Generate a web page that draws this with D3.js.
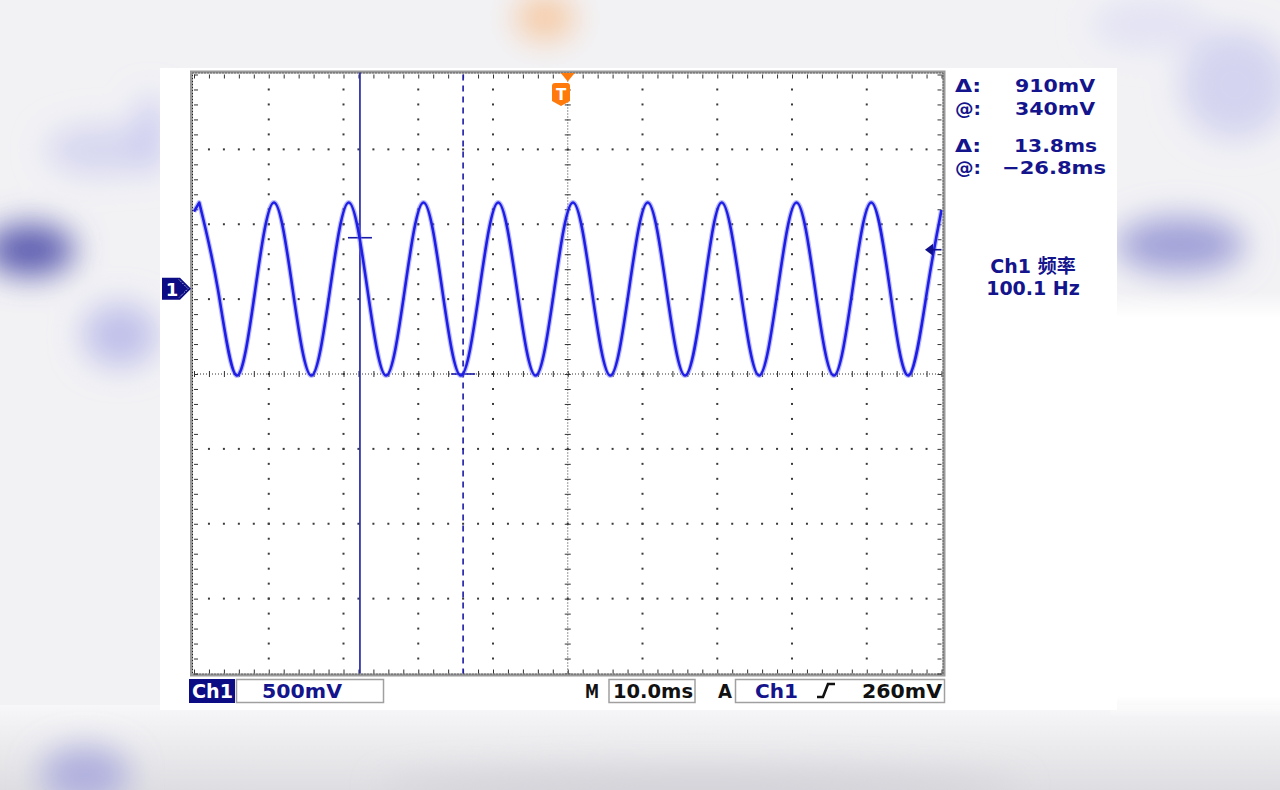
<!DOCTYPE html>
<html><head><meta charset="utf-8">
<script src="https://cdn.jsdelivr.net/npm/d3@7"></script>
<style>html,body{margin:0;padding:0;background:#fff;}svg{display:block}</style>
</head><body><svg id="c" width="1280" height="790"></svg>
<script>
// ---------- data ----------
const timePerDivMs = 10;          // M 10.0ms
const voltPerDivMv = 500;         // Ch1 500mV
const groundOffsetDiv = 1.14;     // Ch1 reference marker above centre
const hDivs = 10, vDivs = 8;
// waveform samples: time (ms) and voltage (mV)
const waveT = [-50.0,-49.3,-46.8,-44.3,-41.8,-39.3,-36.8,-34.3,-31.8,-29.3,-26.8,-24.3,-21.8,-19.3,-16.8,-14.3,-11.8,-9.3,-6.8,-4.3,-1.8,0.7,3.2,5.7,8.2,10.7,13.2,15.7,18.2,20.6,23.1,25.6,28.1,30.6,33.1,35.6,38.1,40.6,43.1,45.6,48.1,50.0];
const waveV = [515,575,-5,-580,-5,575,-5,-580,-5,575,-5,-580,-5,575,-5,-580,-5,575,-5,-580,-5,575,-5,-580,-5,575,-5,-580,-5,575,-5,-580,-5,575,-5,-580,-5,575,-5,-580,-5,525];
const cursorT = [-27.8, -14.0];       // solid, dashed
const cursorV = [340, -570];         // @ 340mV, Δ 910mV
const triggerLevelMv = 260;
const readLabels = ["Δ:", "@:", "Δ:", "@:"];
const readValues = ["910mV", "340mV", "13.8ms", "−26.8ms"];
const freqLabels = ["Ch1 频率", "100.1 Hz"];
const statusTexts = ["Ch1", "500mV", "M", "10.0ms", "A", "Ch1", "260mV"];

// ---------- layout ----------
const X0 = 194, X1 = 941.5, Y0 = 74.5, Y1 = 673.5;
const navy = "#14148c", trace = "#1e1ee6", curCol = "#1a1aa8";
const svg = d3.select("#c");
const defs = svg.append("defs");
defs.append("filter").attr("id","blur").attr("x","-100%").attr("y","-100%").attr("width","300%").attr("height","300%")
  .append("feGaussianBlur").attr("stdDeviation",16);
defs.append("clipPath").attr("id","plot").append("rect").attr("x",X0-1).attr("y",Y0-2).attr("width",X1-X0+2).attr("height",Y1-Y0+3);
const bg = defs.append("linearGradient").attr("id","bot").attr("x1",0).attr("y1",0).attr("x2",0).attr("y2",1);
bg.append("stop").attr("offset",0).attr("stop-color","#f7f7f9");
bg.append("stop").attr("offset",1).attr("stop-color","#dedee2");
const wr = defs.append("linearGradient").attr("id","wr").attr("x1",0).attr("y1",0).attr("x2",0).attr("y2",1);
wr.append("stop").attr("offset",0).attr("stop-color","#fff").attr("stop-opacity",0);
wr.append("stop").attr("offset",0.06).attr("stop-color","#fff").attr("stop-opacity",1);
wr.append("stop").attr("offset",0.95).attr("stop-color","#fff").attr("stop-opacity",1);
wr.append("stop").attr("offset",1).attr("stop-color","#fff").attr("stop-opacity",0);

// background
svg.append("rect").attr("width",1280).attr("height",790).attr("fill","#f2f2f5");
svg.append("rect").attr("y",705).attr("width",1280).attr("height",85).attr("fill","url(#bot)");
const blobs = svg.append("g").attr("filter","url(#blur)");
[[30,250,45,26,"#5c5cb0"],[120,335,38,32,"#c0c0ea"],[100,150,55,25,"#d6d6f0"],[150,135,14,40,"#c8c8f0"],
 [545,18,30,22,"#f6c8a0"],[1180,245,65,28,"#a0a0d8"],[1235,85,55,55,"#d4d4f0"],[1150,25,60,25,"#e2e2f4"],
 [85,775,45,28,"#aeaede"],[700,790,320,18,"#d2d2d8"]]
 .forEach(b=>blobs.append("ellipse").attr("cx",b[0]).attr("cy",b[1]).attr("rx",b[2]).attr("ry",b[3]).attr("fill",b[4]));
svg.append("rect").attr("x",1110).attr("y",292).attr("width",170).attr("height",425).attr("fill","url(#wr)");
svg.append("rect").attr("x",160).attr("y",68).attr("width",957).attr("height",642).attr("fill","#fff");

// ---------- scales ----------
const x = d3.scaleLinear().domain([-hDivs/2*timePerDivMs, hDivs/2*timePerDivMs]).range([X0, X1]);
const vTop = (vDivs/2 - groundOffsetDiv)*voltPerDivMv, vBot = -(vDivs/2 + groundOffsetDiv)*voltPerDivMv;
const y = d3.scaleLinear().domain([vBot, vTop]).range([Y1, Y0]);
const xMid = x(0), yMid = y(vBot + vDivs/2*voltPerDivMv);
const minorT = d3.range(-50, 50.001, timePerDivMs/5);
const minorV = d3.range(vBot, vTop+0.01, voltPerDivMv/5);
const majorT = d3.range(-50, 50.001, timePerDivMs);
const majorV = d3.range(vBot, vTop+0.01, voltPerDivMv);

// ---------- graticule ----------
const g = svg.append("g");
const dotCol = "#3a3a3a";
majorV.slice(1,-1).forEach((v,i)=>{
  if (i+1 === vDivs/2) return;
  g.selectAll(null).data(minorT.slice(1,-1)).enter().append("rect")
    .attr("x",d=>x(d)-1).attr("y",y(v)-1).attr("width",2).attr("height",2).attr("fill",dotCol);
});
majorT.slice(1,-1).forEach((t,i)=>{
  if (i+1 === hDivs/2) return;
  g.selectAll(null).data(minorV.slice(1,-1)).enter().append("rect")
    .attr("x",x(t)-1).attr("y",d=>y(d)-1).attr("width",2).attr("height",2).attr("fill",dotCol);
});
g.append("line").attr("x1",X0).attr("x2",X1).attr("y1",yMid).attr("y2",yMid)
  .attr("stroke","#333").attr("stroke-width",1).attr("stroke-dasharray","1,2");
g.append("line").attr("x1",xMid).attr("x2",xMid).attr("y1",Y0).attr("y2",Y1)
  .attr("stroke","#333").attr("stroke-width",1).attr("stroke-dasharray","1,2");
g.append("g").attr("transform",`translate(0,${yMid})`)
  .call(d3.axisBottom(x).tickValues(minorT).tickSize(3).tickFormat(""))
  .call(a=>a.select(".domain").remove()).selectAll("line").attr("stroke","#333").attr("y1",-3);
g.append("g").attr("transform",`translate(${xMid},0)`)
  .call(d3.axisRight(y).tickValues(minorV).tickSize(3).tickFormat(""))
  .call(a=>a.select(".domain").remove()).selectAll("line").attr("stroke","#333").attr("x1",-3);
g.append("rect").attr("x",X0-2.5).attr("y",Y0-2.5).attr("width",X1-X0+5).attr("height",Y1-Y0+4)
  .attr("fill","none").attr("stroke","#9a9a9a").attr("stroke-width",3);
g.append("rect").attr("x",X0-1.5).attr("y",Y0-1.5).attr("width",X1-X0+3).attr("height",Y1-Y0+2)
  .attr("fill","none").attr("stroke","#222").attr("stroke-width",1).attr("stroke-dasharray","1,2");
const tk = (axis, tr) => g.append("g").attr("transform",tr).call(axis.tickSize(4).tickFormat(""))
  .call(a=>a.select(".domain").remove()).selectAll("line").attr("stroke","#333");
tk(d3.axisBottom(x).tickValues(minorT), `translate(0,${Y0})`);
tk(d3.axisTop(x).tickValues(minorT), `translate(0,${Y1})`);
tk(d3.axisRight(y).tickValues(minorV), `translate(${X0},0)`);
tk(d3.axisLeft(y).tickValues(minorV), `translate(${X1},0)`);

// ---------- cursors ----------
svg.append("line").attr("x1",x(cursorT[0])).attr("x2",x(cursorT[0])).attr("y1",Y0-2).attr("y2",Y1)
  .attr("stroke",curCol).attr("stroke-width",1.6);
svg.append("line").attr("x1",x(cursorT[1])).attr("x2",x(cursorT[1])).attr("y1",Y0).attr("y2",Y1)
  .attr("stroke",curCol).attr("stroke-width",1.6).attr("stroke-dasharray","6,5");
cursorT.forEach((t,i)=>{
  svg.append("line").attr("x1",x(t)-12).attr("x2",x(t)+12).attr("y1",y(cursorV[i])).attr("y2",y(cursorV[i]))
    .attr("stroke",curCol).attr("stroke-width",1.6);
});

// ---------- waveform ----------
const pts = waveT.map((t,i)=>[t, waveV[i]]);
const lineN = d3.line().x(d=>x(d[0])).y(d=>y(d[1])).curve(d3.curveNatural);
const lineL = d3.line().x(d=>x(d[0])).y(d=>y(d[1]));
const pathD = lineL(pts.slice(0,2)) + lineN(pts.slice(1)).replace(/^M/,"L");
const wg = svg.append("g").attr("clip-path","url(#plot)");
wg.append("path").attr("d",pathD).attr("fill","none").attr("stroke","#6a6af5").attr("stroke-opacity",0.45)
  .attr("stroke-width",5).attr("stroke-linejoin","round");
wg.append("path").attr("d",pathD).attr("fill","none").attr("stroke",trace)
  .attr("stroke-width",2.6).attr("stroke-linejoin","round");

// ---------- markers ----------
const gy = y(0);
svg.append("path").attr("d",`M162,${gy-11} L180,${gy-11} L191,${gy} L180,${gy+11} L162,${gy+11} Z`).attr("fill","#0c0c84");
svg.append("path").attr("d",`M179,${gy-9} L188,${gy} L179,${gy+9}`).attr("fill","none")
  .attr("stroke","#fff").attr("stroke-width",1).attr("stroke-dasharray","1,1.5");
svg.append("text").attr("x",172).attr("y",gy+7).attr("text-anchor","middle").attr("fill","#fff")
  .attr("font-family","DejaVu Sans").attr("font-weight","bold").attr("font-size",18).text("1");
svg.append("path").attr("d",`M${xMid-7},${Y0-1.5} L${xMid+7},${Y0-1.5} L${xMid},${Y0+7} Z`).attr("fill","#ff7a0a");
svg.append("path").attr("d","M552,86 Q552,83 555,83 L567,83 Q570,83 570,86 L570,101 L561,106 L552,101 Z").attr("fill","#ff7a0a");
svg.append("text").attr("x",561).attr("y",100).attr("text-anchor","middle").attr("fill","#fff")
  .attr("font-family","DejaVu Sans").attr("font-weight","bold").attr("font-size",15).text("T");
const ty = y(triggerLevelMv);
svg.append("path").attr("d",`M925,${ty} L933,${ty-6} L933,${ty+6} Z`).attr("fill","#10108a");
svg.append("line").attr("x1",932).attr("x2",X1).attr("y1",ty).attr("y2",ty).attr("stroke","#10108a").attr("stroke-width",1.6);

// ---------- readouts ----------
const font = "'DejaVu Sans', Verdana, sans-serif";
function txt(s, x0, yb, w, col, size){
  const t = svg.append("text").attr("x",x0).attr("y",yb).attr("fill",col||navy)
    .attr("font-family",font).attr("font-weight","bold").attr("font-size",size||17).text(s);
  if (w) t.attr("textLength",w).attr("lengthAdjust","spacingAndGlyphs");
  return t;
}
const rowY = [92, 114.5, 151.5, 173.5];
readLabels.forEach((s,i)=>txt(s, 955, rowY[i], 26, navy, 18));
txt(readValues[0], 1015, rowY[0], 80, navy, 18);
txt(readValues[1], 1015, rowY[1], 80, navy, 18);
txt(readValues[2], 1014, rowY[2], 83, navy, 18);
txt(readValues[3], 1002, rowY[3], 104, navy, 18);
svg.append("text").attr("x",1033).attr("y",273).attr("text-anchor","middle").attr("fill",navy)
  .attr("font-family","'DejaVu Sans','Noto Sans CJK SC',sans-serif").attr("font-weight","bold").attr("font-size",19).text(freqLabels[0]);
svg.append("text").attr("x",1033).attr("y",295).attr("text-anchor","middle").attr("fill",navy)
  .attr("font-family",font).attr("font-weight","bold").attr("font-size",19).text(freqLabels[1]);

// ---------- status bar ----------
svg.append("rect").attr("x",189).attr("y",679).attr("width",46).attr("height",24).attr("fill","#0c0c84");
svg.append("rect").attr("x",236.5).attr("y",679.5).attr("width",147).attr("height",23).attr("fill","#fff").attr("stroke","#a0a0a0").attr("stroke-width",1.5);
svg.append("rect").attr("x",609).attr("y",679.5).attr("width",86).attr("height",23).attr("fill","#fff").attr("stroke","#a0a0a0").attr("stroke-width",1.5);
svg.append("rect").attr("x",735.5).attr("y",679.5).attr("width",209).attr("height",23).attr("fill","#fff").attr("stroke","#a0a0a0").attr("stroke-width",1.5);
txt(statusTexts[0], 192, 698, 41, "#fff", 19);
txt(statusTexts[1], 262, 698, 80, navy, 19);
txt(statusTexts[2], 585, 698, 14, "#111", 19);
txt(statusTexts[3], 613, 698, 80, "#111", 19);
txt(statusTexts[4], 718, 698, 14, "#111", 19);
txt(statusTexts[5], 755, 698, 43, navy, 19);
txt(statusTexts[6], 862, 698, 80, "#111", 19);
svg.append("path").attr("d","M817,697 L823,697 L828,684 L835,684").attr("fill","none").attr("stroke","#111").attr("stroke-width",2.6);
</script></body></html>
